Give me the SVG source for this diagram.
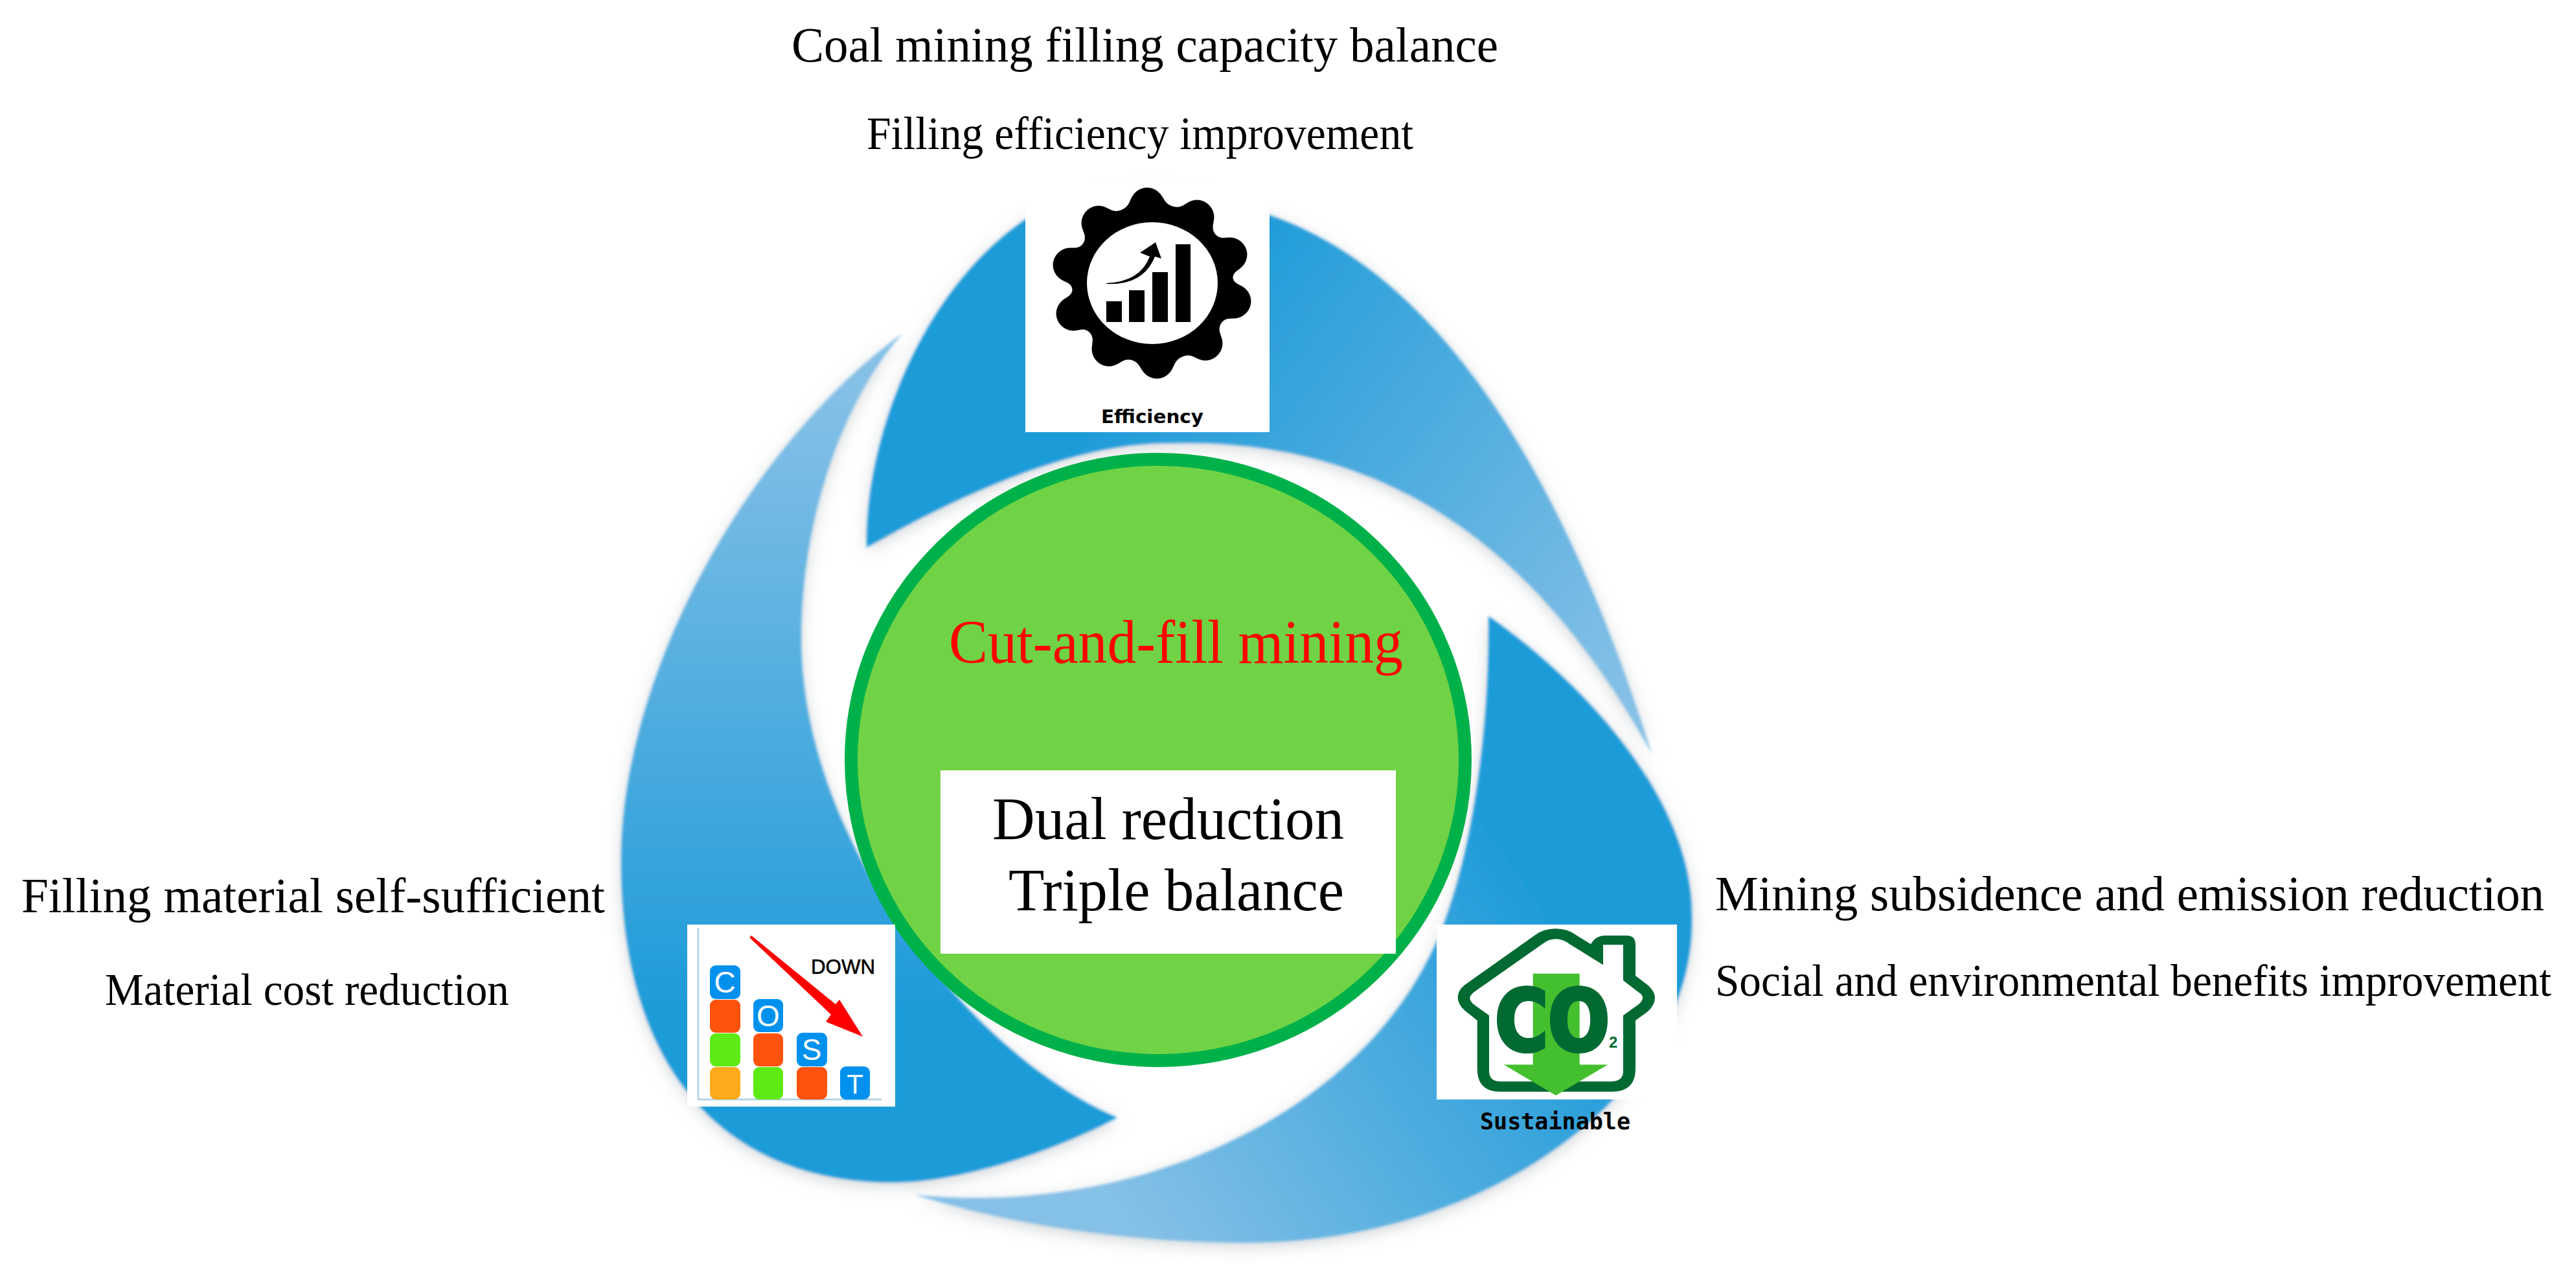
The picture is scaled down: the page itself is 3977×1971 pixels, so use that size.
<svg xmlns="http://www.w3.org/2000/svg" width="3977" height="1971" viewBox="0 0 3977 1971">
<style>
.t{font-family:"Liberation Serif","Times New Roman",serif;fill:#000}
.s{font-size:76px}
.m{font-size:69px}
.bl{fill:#0091ee}.or{fill:#ff530d}.gr{fill:#5eea14}.am{fill:#ffaa1a}
.l{font-family:"Liberation Sans",Arial,sans-serif;fill:#fff;text-anchor:middle}
</style>
<defs>
<linearGradient id="gTop" gradientUnits="userSpaceOnUse" x1="1800" y1="500" x2="2520" y2="1050"><stop offset="0" stop-color="#1e9bd9"/><stop offset="1" stop-color="#85c0e6"/></linearGradient>
<linearGradient id="gLeft" gradientUnits="userSpaceOnUse" x1="1200" y1="600" x2="1200" y2="1560"><stop offset="0" stop-color="#85c0e6"/><stop offset="1" stop-color="#1e9bd9"/></linearGradient>
<linearGradient id="gRight" gradientUnits="userSpaceOnUse" x1="2420" y1="1440" x2="1760" y2="1900"><stop offset="0" stop-color="#1e9bd9"/><stop offset="1" stop-color="#85c0e6"/></linearGradient>
<filter id="soft" x="-10%" y="-10%" width="120%" height="120%"><feGaussianBlur in="SourceAlpha" stdDeviation="12" result="b"/><feOffset in="b" dy="6" result="o"/><feFlood flood-color="#8d979d" flood-opacity=".4"/><feComposite in2="o" operator="in" result="sh"/><feGaussianBlur in="SourceGraphic" stdDeviation="2" result="g"/><feMerge><feMergeNode in="sh"/><feMergeNode in="g"/></feMerge></filter>
<filter id="goo" x="-10%" y="-10%" width="120%" height="120%"><feGaussianBlur in="SourceGraphic" stdDeviation="8"/><feColorMatrix type="matrix" values="1 0 0 0 0 0 1 0 0 0 0 0 1 0 0 0 0 0 18 -8"/></filter>
</defs>
<rect width="3977" height="1971" fill="#fff"/>
<g id="connectors">
<path id="blade-top" filter="url(#soft)" fill="url(#gTop)" d="M1338 845C1335 680 1420 450 1584 338Q1770 245 1960 332C2230 425 2420 750 2550 1163C2420 930 2210 670 1800 684C1650 684 1470 770 1338 845Z"/>
<path id="blade-left" filter="url(#soft)" fill="url(#gLeft)" d="M1393 515C1165 680 959 1030 959 1330C959 1640 1110 1825 1380 1825C1470 1825 1610 1785 1725 1725C1500 1630 1237 1300 1237 986C1237 800 1300 620 1393 515Z"/>
<path id="blade-right" filter="url(#soft)" fill="url(#gRight)" d="M2298 951C2440 1050 2612 1230 2612 1412C2620 1680 2300 1918 1925 1918C1740 1918 1560 1890 1412 1844C1750 1880 2120 1720 2229 1426C2280 1290 2300 1100 2298 951Z"/>
</g>
<g id="center">
<ellipse cx="1788" cy="1173" rx="474" ry="464" fill="#6fd345" stroke="#00b14a" stroke-width="20"/>
<text class="t" x="1465" y="1023" font-size="96" style="fill:#f00" textLength="701" lengthAdjust="spacingAndGlyphs">Cut-and-fill mining</text>
<rect x="1452" y="1189" width="703" height="283" fill="#fff"/>
<text class="t" x="1532" y="1295" font-size="94" textLength="543" lengthAdjust="spacingAndGlyphs">Dual reduction</text>
<text class="t" x="1557" y="1405" font-size="94" textLength="518" lengthAdjust="spacingAndGlyphs">Triple balance</text>
</g>
<g id="efficiency">
<rect x="1583" y="279" width="377" height="388" fill="#fff"/>
<g filter="url(#goo)">
<circle cx="1779" cy="437" r="122"/>
<circle cx="1771" cy="316" r="27"/><circle cx="1848" cy="335" r="27"/><circle cx="1899" cy="393" r="27"/><circle cx="1905" cy="465" r="27"/><circle cx="1861" cy="530" r="27"/><circle cx="1786" cy="558" r="27"/><circle cx="1712" cy="539" r="27"/><circle cx="1657" cy="484" r="27"/><circle cx="1652" cy="409" r="27"/><circle cx="1696" cy="344" r="27"/>
</g>
<ellipse cx="1779" cy="437" rx="101" ry="94" fill="#fff"/>
<rect x="1708" y="465" width="24" height="32"/><rect x="1743" y="448" width="24" height="49"/><rect x="1779" y="420" width="24" height="77"/><rect x="1815" y="377" width="23" height="120"/>
<path d="M1708 437Q1760 435 1775 396L1760 390L1784 374L1793 399L1783 396Q1765 441 1708 438Z"/>
<text x="1700" y="653" font-family="DejaVu Sans" font-weight="700" font-size="29" textLength="158" lengthAdjust="spacingAndGlyphs">Efficiency</text>
</g>
<g id="cost">
<rect x="1061" y="1427" width="321" height="281" fill="#fff"/>
<path d="M1078 1432V1697H1361" fill="none" stroke="#a9cfe6" stroke-width="2.5"/>
<rect class="bl" x="1096" y="1490" width="47" height="52" rx="9"/><rect class="or" x="1096" y="1543" width="47" height="51" rx="9"/><rect class="gr" x="1096" y="1595" width="47" height="51" rx="9"/><rect class="am" x="1096" y="1647" width="47" height="50" rx="9"/>
<rect class="bl" x="1163" y="1542" width="46" height="51" rx="9"/><rect class="or" x="1163" y="1595" width="46" height="51" rx="9"/><rect class="gr" x="1163" y="1647" width="46" height="50" rx="9"/>
<rect class="bl" x="1230" y="1594" width="47" height="52" rx="9"/><rect class="or" x="1230" y="1647" width="47" height="50" rx="9"/>
<rect class="bl" x="1297" y="1646" width="46" height="51" rx="9"/>
<text class="l" x="1119" y="1532" font-size="46">C</text><text class="l" x="1186" y="1584" font-size="46">O</text><text class="l" x="1253" y="1636" font-size="46">S</text><text class="l" x="1320" y="1688" font-size="42">T</text>
<path d="M1157 1447L1160 1444L1290 1550L1296 1543L1332 1600L1275 1577L1283 1566Z" fill="#f00"/>
<text x="1252" y="1503" font-family="Liberation Sans" font-size="32" stroke="#000" stroke-width=".6" textLength="99" lengthAdjust="spacingAndGlyphs">DOWN</text>
</g>
<g id="sustainable">
<rect x="2218" y="1427" width="371" height="270" fill="#fff"/>
<g transform="translate(2150 1380) scale(.33333)">
<path fill="#006a32" fill-rule="evenodd" d="M755 160Q810 160 850 190L918 232Q940 192 985 192L1085 192Q1125 192 1125 235L1125 378L1180 420Q1215 450 1215 480Q1215 515 1180 545L1125 585L1125 810Q1125 915 1015 915L500 915Q392 915 392 810L392 585L335 540Q302 510 302 480Q302 445 335 420L660 190Q700 160 755 160ZM755 208Q725 208 695 230L375 455Q358 470 358 482Q358 495 375 510L447 562L447 820Q447 868 500 868L1010 868Q1068 868 1068 820L1068 562L1140 510Q1158 495 1158 480Q1158 465 1140 455L1068 400L1068 235L975 235L975 328L820 232Q790 208 755 208Z"/>
<path fill="#44bf2e" d="M650 368H866V790H997L756 932L515 790H650Z"/>
</g>
<text transform="translate(2308 1621) scale(.86 1)" font-family="DejaVu Sans" font-weight="700" font-size="130" fill="#006a32" stroke="#006a32" stroke-width="6">CO</text>
<text x="2484" y="1617" font-family="Liberation Sans" font-weight="700" font-size="24" fill="#006a32">2</text>
<text x="2285" y="1743" font-family="DejaVu Sans Mono" font-weight="700" font-size="35" textLength="232" lengthAdjust="spacingAndGlyphs">Sustainable</text>
</g>
<g id="label-top">
<text class="t s" x="1222" y="95" textLength="1091" lengthAdjust="spacingAndGlyphs">Coal mining filling capacity balance</text>
<text class="t" font-size="71" x="1338" y="230" textLength="844" lengthAdjust="spacingAndGlyphs">Filling efficiency improvement</text>
</g>
<g id="label-left">
<text class="t s" x="33" y="1408" textLength="901" lengthAdjust="spacingAndGlyphs">Filling material self-sufficient</text>
<text class="t m" x="162" y="1551" textLength="624" lengthAdjust="spacingAndGlyphs">Material cost reduction</text>
</g>
<g id="label-right">
<text class="t s" x="2648" y="1405" textLength="1280" lengthAdjust="spacingAndGlyphs">Mining subsidence and emission reduction</text>
<text class="t m" x="2648" y="1537" textLength="1291" lengthAdjust="spacingAndGlyphs">Social and environmental benefits improvement</text>
</g>
</svg>
